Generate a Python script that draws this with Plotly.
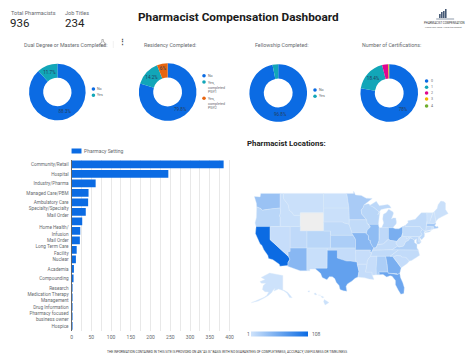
import math
import plotly.graph_objects as go
from plotly.colors import sample_colorscale

W, H = 474, 356
FONT = "Roboto"
BLUE = "#0b6be3"
TEAL = "#12a6b8"
ORANGE = "#e8650f"
MAGENTA = "#e0068f"
GOLD = "#f0b400"
GREEN = "#70ad2f"
INK = "#666a6e"

# ---- data ----
dual_labels = ["No", "Yes"]
dual_values = [88.3, 11.7]
residency_labels = ["No", "Yes,<br>completed<br>PGY1", "Yes,<br>completed<br>PGY2"]
residency_values = [79.8, 14.2, 6.0]
fellowship_labels = ["No", "Yes"]
fellowship_values = [96.8, 3.2]
cert_labels = ["0", "1", "2", "3", "4"]
cert_values = [77.6, 18.4, 3.4, 0.4, 0.2]

settings = ["Community/Retail", "Hospital", "Industry/Pharma", "Managed Care/PBM", "Ambulatory Care",
            "Specialty/Specialty<br>Mail Order", "(no label)", "Home Health/<br>Infusion", "Mail Order",
            "Long Term Care<br>Facility", "Nuclear", "Academia", "Compounding", "Research",
            "Medication Therapy<br>Management", "Drug Information", "Pharmacy focused<br>business owner", "Hospice"]
setting_counts = [385, 245, 61, 43, 42, 36, 27, 22, 21, 13, 11, 6, 3, 2, 2, 2, 1, 1]

state_values = {"CA":108,"TX":60,"FL":55,"GA":48,"OH":48,"AZ":40,"MO":40,"IL":36,"WA":30,"MN":22,"AL":20,
    "MA":24,"VA":18,"KS":20,"CO":13,"PA":9,"NY":9,"NJ":12,"MI":11,"WI":13,"IN":10,"KY":8,"TN":9,"NC":8,
    "SC":7,"MS":6,"LA":7,"AR":6,"OK":7,"NM":5,"UT":10,"NV":6,"OR":13,"ID":5,"MT":4,"ND":3,"SD":4,"NE":9,
    "IA":8,"WV":4,"MD":10,"DE":3,"CT":7,"RI":4,"VT":3,"NH":4,"ME":4,"AK":2,"HI":3,"WY":None}

state_shapes = {
"WA":[[(-124.7,48.4),(-123.0,48.3),(-122.8,49.0),(-117.0,49.0),(-117.0,46.0),(-119.0,45.9),(-121.2,45.7),(-122.3,45.55),(-122.8,45.9),(-124.0,46.25),(-124.1,47.0)]],
"OR":[[(-124.0,46.25),(-122.8,45.9),(-122.3,45.55),(-121.2,45.7),(-119.0,45.9),(-117.0,46.0),(-116.9,45.0),(-117.2,44.4),(-117.0,44.0),(-117.0,42.0),(-124.2,42.0),(-124.5,42.8),(-124.1,44.0)]],
"CA":[[(-124.2,42.0),(-120.0,42.0),(-120.0,39.0),(-114.6,35.0),(-114.1,34.3),(-114.7,33.4),(-114.7,32.7),(-117.1,32.5),(-117.3,33.0),(-118.4,33.75),(-119.2,34.15),(-120.5,34.45),(-120.7,35.2),(-121.9,36.6),(-122.5,37.7),(-123.0,38.0),(-123.8,39.3),(-124.4,40.4)]],
"NV":[[(-120,42),(-114.05,42),(-114.05,36.2),(-114.7,36.1),(-114.6,35.0),(-120,39)]],
"ID":[[(-117,49),(-116.05,49),(-116.05,48),(-114.6,46.65),(-114.3,45.5),(-113.5,45.1),(-113.0,44.5),(-111.05,44.5),(-111.05,42),(-117,42),(-117,44),(-117.2,44.4),(-116.9,45),(-117,46)]],
"MT":[[(-116.05,49),(-104.05,49),(-104.05,45),(-111.05,45),(-111.05,44.5),(-113.0,44.5),(-113.5,45.1),(-114.3,45.5),(-114.6,46.65),(-116.05,48)]],
"WY":[[(-111.05,45),(-104.05,45),(-104.05,41),(-111.05,41)]],
"UT":[[(-114.05,42),(-111.05,42),(-111.05,41),(-109.05,41),(-109.05,37),(-114.05,37)]],
"CO":[[(-109.05,41),(-102.05,41),(-102.05,37),(-109.05,37)]],
"AZ":[[(-114.05,37),(-109.05,37),(-109.05,31.33),(-111.07,31.33),(-114.8,32.5),(-114.7,32.7),(-114.7,33.4),(-114.1,34.3),(-114.6,35.0),(-114.7,36.1),(-114.05,36.2)]],
"NM":[[(-109.05,37),(-103.0,37),(-103.05,32),(-106.6,32),(-106.5,31.78),(-108.2,31.78),(-108.2,31.33),(-109.05,31.33)]],
"ND":[[(-104.05,49),(-97.2,49),(-96.55,46),(-104.05,46)]],
"SD":[[(-104.05,46),(-96.55,46),(-96.45,45.3),(-96.45,43.5),(-96.5,42.5),(-98.0,42.8),(-98.5,43),(-104.05,43)]],
"NE":[[(-104.05,43),(-98.5,43),(-98,42.8),(-96.5,42.5),(-95.9,41.2),(-95.3,40),(-102.05,40),(-102.05,41),(-104.05,41)]],
"KS":[[(-102.05,40),(-95.3,40),(-94.6,39.1),(-94.6,37),(-102.05,37)]],
"OK":[[(-103,37),(-94.6,37),(-94.45,35.4),(-94.5,33.65),(-96,33.8),(-97.2,33.8),(-98.5,34.1),(-100,34.56),(-100,36.5),(-103,36.5)]],
"TX":[[(-106.6,32),(-103.05,32),(-103,36.5),(-100,36.5),(-100,34.56),(-98.5,34.1),(-97.2,33.8),(-96,33.8),(-94.5,33.65),(-94.05,33.55),(-94.05,33),(-93.55,31.2),(-93.85,29.7),(-94.7,29.4),(-95.6,28.7),(-97.0,27.9),(-97.4,27.2),(-97.15,25.95),(-98.2,26.05),(-99.2,26.4),(-99.5,27.5),(-100.3,28.3),(-100.8,29.3),(-101.5,29.77),(-102.4,29.8),(-103.1,29.0),(-104.5,29.6),(-105,30.7),(-106.5,31.78)]],
"MN":[[(-97.2,49),(-95.15,49),(-95.15,49.4),(-94.6,48.7),(-92.9,48.6),(-91.4,48.05),(-89.6,48.0),(-92.0,46.7),(-92.3,46.1),(-92.9,45.6),(-92.75,44.75),(-91.25,43.5),(-96.45,43.5),(-96.45,45.3),(-96.55,46)]],
"IA":[[(-96.45,43.5),(-91.25,43.5),(-91.1,42.7),(-90.15,41.9),(-91.1,41.2),(-91.4,40.4),(-91.7,40.6),(-95.75,40.6),(-95.9,41.2),(-96.5,42.5)]],
"MO":[[(-95.75,40.6),(-91.7,40.6),(-91.4,40.4),(-90.7,39.9),(-90.7,39.0),(-90.15,38.8),(-90.2,38.4),(-89.5,37.3),(-89.1,37.0),(-89.5,36.5),(-89.7,36.0),(-90.35,36.0),(-90.15,36.5),(-94.6,36.5),(-94.6,39.1),(-95.3,40)]],
"AR":[[(-94.6,36.5),(-90.15,36.5),(-90.35,36.0),(-89.7,36.0),(-90.1,35.0),(-90.6,34.6),(-91.1,33.8),(-91.15,33.0),(-94.05,33),(-94.05,33.55),(-94.5,33.65),(-94.45,35.4)]],
"LA":[[(-94.05,33),(-91.15,33),(-91.6,31.0),(-89.7,31.0),(-89.6,30.2),(-89.4,29.8),(-89.1,29.1),(-90.5,29.2),(-91.8,29.5),(-93.85,29.7),(-93.55,31.2)]],
"WI":[[(-92.3,46.1),(-92.0,46.7),(-90.8,46.9),(-89.1,46.15),(-87.8,45.35),(-87.6,45.1),(-88.0,44.55),(-87.3,45.2),(-87.5,44.3),(-87.85,43),(-87.8,42.5),(-90.65,42.5),(-91.1,42.7),(-91.25,43.5),(-92.75,44.75),(-92.9,45.6)]],
"IL":[[(-90.65,42.5),(-87.8,42.5),(-87.55,41.75),(-87.53,39.35),(-87.6,38.7),(-88.05,37.8),(-88.45,37.1),(-89.1,37.0),(-89.5,37.3),(-90.2,38.4),(-90.15,38.8),(-90.7,39.0),(-90.7,39.9),(-91.4,40.4),(-91.1,41.2),(-90.15,41.9)]],
"IN":[[(-87.55,41.75),(-87.2,41.75),(-84.8,41.75),(-84.8,39.1),(-85.4,38.7),(-86.3,38.0),(-88.05,37.8),(-87.6,38.7),(-87.53,39.35)]],
"MI":[[(-86.8,41.76),(-84.8,41.75),(-83.45,41.73),(-83.1,42.1),(-82.5,42.6),(-82.4,43.0),(-82.6,43.9),(-83.4,43.9),(-83.9,43.7),(-83.3,44.8),(-83.4,45.2),(-84.7,45.75),(-85.5,45.0),(-86.3,44.7),(-86.5,43.7),(-86.2,42.8)],
      [(-90.4,46.55),(-88.4,47.4),(-87.5,46.5),(-85,46.75),(-84.4,46.5),(-84.0,46.0),(-85,46),(-87.0,45.7),(-87.6,45.1),(-87.8,45.35),(-89.1,46.15)]],
"OH":[[(-84.8,41.75),(-83.45,41.73),(-82.7,41.5),(-81.7,41.5),(-80.52,42.0),(-80.52,40.6),(-80.9,39.7),(-81.7,39.2),(-82.2,38.6),(-83.0,38.7),(-84.2,38.8),(-84.8,39.1)]],
"KY":[[(-89.5,36.5),(-88.05,36.5),(-83.7,36.6),(-82.0,37.5),(-82.6,38.2),(-82.2,38.6),(-83,38.7),(-84.2,38.8),(-84.8,39.1),(-85.4,38.7),(-86.3,38),(-88.05,37.8),(-88.45,37.1),(-89.1,37)]],
"TN":[[(-90.1,35),(-88.2,35),(-84.3,35),(-81.7,36.6),(-83.7,36.6),(-88.05,36.5),(-89.5,36.5),(-89.7,36)]],
"MS":[[(-91.15,33),(-91.1,33.8),(-90.6,34.6),(-90.1,35),(-88.2,35),(-88.45,31.9),(-88.4,30.3),(-89.6,30.2),(-89.7,31),(-91.6,31)]],
"AL":[[(-88.2,35),(-85.6,35),(-85.15,32.8),(-85.0,31),(-87.6,31),(-87.5,30.3),(-88.4,30.3),(-88.45,31.9)]],
"GA":[[(-85.6,35),(-83.1,35),(-83.3,34.7),(-82.0,33.4),(-81.0,32.1),(-81.4,30.7),(-82.05,30.4),(-82.2,30.57),(-84.85,30.7),(-85.0,31),(-85.15,32.8)]],
"FL":[[(-87.6,31),(-85.0,31),(-84.85,30.7),(-82.2,30.57),(-82.05,30.4),(-81.4,30.7),(-81.2,29.6),(-80.5,28.2),(-80.05,26.9),(-80.2,25.3),(-81.1,25.1),(-81.8,26.1),(-82.7,27.7),(-82.7,28.8),(-83.7,29.9),(-84.3,30.05),(-85.3,29.7),(-86.4,30.4),(-87.5,30.3)]],
"SC":[[(-83.1,35),(-82.3,35.2),(-81.05,35.1),(-80.8,34.82),(-79.67,34.8),(-78.55,33.85),(-79.2,33.2),(-80.4,32.5),(-81,32.1),(-82,33.4),(-83.3,34.7)]],
"NC":[[(-84.3,35),(-83.1,35),(-82.3,35.2),(-81.05,35.1),(-80.8,34.82),(-79.67,34.8),(-78.55,33.85),(-77.9,33.95),(-76.5,34.7),(-75.5,35.25),(-75.9,36.55),(-81.7,36.6)]],
"VA":[[(-83.7,36.6),(-81.7,36.6),(-75.9,36.55),(-76.3,37.0),(-76.3,37.9),(-77.0,38.3),(-77.05,38.85),(-77.7,39.3),(-78.35,39.4),(-78.9,38.8),(-79.65,38.55),(-80.3,37.5),(-81.7,37.25),(-82,37.5)]],
"WV":[[(-82,37.5),(-81.7,37.25),(-80.3,37.5),(-79.65,38.55),(-78.9,38.8),(-78.35,39.4),(-77.7,39.3),(-78.4,39.65),(-79.48,39.2),(-79.48,39.72),(-80.52,39.72),(-80.52,40.6),(-80.9,39.7),(-81.7,39.2),(-82.2,38.6),(-82.6,38.2)]],
"MD":[[(-79.48,39.72),(-75.79,39.72),(-75.7,38.46),(-75.05,38.45),(-75.6,37.95),(-76.3,38.0),(-76.5,38.5),(-76.4,39.2),(-77.05,38.85),(-77.7,39.3),(-78.4,39.65),(-79.48,39.2)]],
"DE":[[(-75.79,39.72),(-75.4,39.8),(-75.55,39.45),(-75.05,38.45),(-75.7,38.46)]],
"PA":[[(-80.52,42),(-79.76,42.27),(-79.76,42),(-75.35,42),(-74.7,41.36),(-75.1,40.95),(-75.1,40.6),(-74.75,40.2),(-75.4,39.8),(-75.79,39.72),(-80.52,39.72)]],
"NJ":[[(-74.7,41.36),(-73.9,41.0),(-74.25,40.5),(-74.0,40.4),(-74.1,39.7),(-74.9,38.95),(-75.5,39.5),(-74.75,40.2),(-75.1,40.6),(-75.1,40.95)]],
"NY":[[(-79.76,42.27),(-78.9,42.9),(-79.05,43.27),(-76.8,43.6),(-76.2,44.1),(-75,45),(-73.35,45),(-73.25,43.6),(-73.5,42.05),(-73.65,41),(-73.9,41.0),(-74.7,41.36),(-75.35,42),(-79.76,42)],
      [(-74.0,40.6),(-73.7,40.9),(-72.0,41.1),(-72.6,40.8)]],
"CT":[[(-73.5,42.05),(-71.8,42.02),(-71.85,41.32),(-73.65,41)]],
"RI":[[(-71.8,42.02),(-71.4,42.02),(-71.15,41.5),(-71.85,41.32)]],
"MA":[[(-73.5,42.05),(-73.27,42.75),(-71.3,42.7),(-70.8,42.87),(-70.65,42.6),(-71.0,42.3),(-70.6,41.95),(-70.05,42.05),(-69.95,41.67),(-71.15,41.5),(-71.4,42.02),(-71.8,42.02)]],
"VT":[[(-73.35,45),(-71.5,45),(-72.05,44.1),(-72.45,43.1),(-72.45,42.73),(-73.27,42.75),(-73.25,43.6)]],
"NH":[[(-71.5,45),(-71.1,45.3),(-70.7,43.1),(-70.8,42.87),(-71.3,42.7),(-72.45,42.73),(-72.45,43.1),(-72.05,44.1)]],
"ME":[[(-71.1,45.3),(-70.3,45.9),(-70.0,46.7),(-69.2,47.45),(-68.3,47.35),(-67.8,47.05),(-67.8,45.7),(-67.0,44.85),(-68.5,44.3),(-70.0,43.75),(-70.7,43.1)]],
"AK":[[(-141,69.6),(-141,60.3),(-139,59.8),(-135,58.5),(-130,55),(-133,55.2),(-136,58),(-140,59.7),(-146,60.8),(-149,60),(-151.5,59.4),(-150,61.2),(-152.5,60.0),(-154,58.5),(-158,56.5),(-163,54.8),(-170,52.9),(-178,51.8),(-170,53.4),(-163,55.3),(-160,56.5),(-157.5,58.8),(-162,59),(-165,60.5),(-164,63),(-161,64.5),(-166,64.6),(-168,65.6),(-162,67),(-166.5,68.4),(-156.5,71.3),(-149,70.5)]],
"HI":[[(-155.9,20.2),(-155.1,19.8),(-154.8,19.5),(-155.7,18.95),(-156.05,19.7)],
      [(-156.7,20.95),(-156.2,20.9),(-156.0,20.7),(-156.4,20.6)],
      [(-158.25,21.55),(-157.95,21.7),(-157.65,21.3),(-158.1,21.3)],
      [(-159.75,22.1),(-159.4,22.2),(-159.35,21.95),(-159.6,21.9)],
      [(-157.3,21.2),(-156.75,21.17),(-156.85,21.05),(-157.3,21.1)]],
}

# ---- helpers ----
def X(p): return p / W
def Y(p): return 1 - p / H

def mercator(lat):
    return math.log(math.tan(math.pi/4 + math.radians(lat)/2))

def project(state, lon, lat):
    # returns plain map units for the map subplot; Alaska and Hawaii sit in insets
    if state == "AK":
        return 252 + (lon + 178) * 0.854, 273 + (71.3 - lat) * 1.52
    if state == "HI":
        return 307.7 + (lon + 160) * 4.3, 290.7 + (22.2 - lat) * 4.4
    return 255 + (lon + 124.7) * 3.38, 231 + (mercator(41) - mercator(lat)) * 190

fig = go.Figure()

def donut(labels, values, colors, cx, cy, r, texts):
    fig.add_trace(go.Pie(labels=[l.replace("<br>"," ") for l in labels], values=values, hole=0.5, sort=False,
        direction="clockwise", rotation=0, marker=dict(colors=colors, line=dict(width=0)),
        text=texts, textinfo="text", textposition="inside", insidetextorientation="horizontal",
        textfont=dict(family=FONT, size=4.6, color="#24405f"), showlegend=False,
        domain=dict(x=[X(cx-r), X(cx+r)], y=[Y(cy+r), Y(cy-r)])))

donut(dual_labels, dual_values, [BLUE, TEAL], 56.7, 92, 28.5, ["88.3%", "11.7%"])
donut(residency_labels, residency_values, [BLUE, TEAL, ORANGE], 167.7, 92, 29, ["79.8%", "14.2%", "6%"])
donut(fellowship_labels, fellowship_values, [BLUE, TEAL], 279, 93, 29, ["96.8%", ""])
donut(cert_labels, cert_values, [BLUE, TEAL, MAGENTA, GOLD, GREEN], 390.7, 93, 29, ["78%", "18.4%", "", "", ""])

fig.add_trace(go.Bar(x=setting_counts, y=settings, orientation="h", marker=dict(color=BLUE, line=dict(width=0)),
    name="Pharmacy Setting", showlegend=False, width=0.82, xaxis="x", yaxis="y"))

MAP_SCALE = [[0, "#cfe3fb"], [1, "#0b6be3"]]
VMIN, VMAX = 1, 108
for st, parts in state_shapes.items():
    xs, ys = [], []
    for ring in parts:
        pts = [project(st, lon, lat) for lon, lat in ring]
        pts.append(pts[0])
        xs += [p[0] for p in pts] + [None]
        ys += [p[1] for p in pts] + [None]
    v = state_values.get(st)
    col = "#eeeeee" if v is None else sample_colorscale(MAP_SCALE, (v - VMIN) / (VMAX - VMIN))[0]
    fig.add_trace(go.Scatter(x=xs, y=ys, mode="lines", fill="toself", fillcolor=col, name=st,
        line=dict(color="#dceafb", width=0.4), showlegend=False, xaxis="x2", yaxis="y2",
        hoverinfo="text", text=f"{st}: {v}" if v is not None else st))

# colour key of the map (points fall outside the axis window, only the colour bar shows)
fig.add_trace(go.Scatter(x=[0, 0], y=[0, 0], mode="markers", showlegend=False, xaxis="x2", yaxis="y2", hoverinfo="skip",
    marker=dict(color=[VMIN, VMAX], cmin=VMIN, cmax=VMAX, colorscale=MAP_SCALE, size=1, showscale=True,
        colorbar=dict(orientation="h", thickness=5, thicknessmode="pixels", len=57, lenmode="pixels",
            x=X(252), xanchor="left", xpad=0, ypad=0, y=Y(334), yanchor="middle", showticklabels=False, ticks="", outlinewidth=0))))

tick_vals = list(range(0, 401, 50))
fig.update_layout(
    width=W, height=H, autosize=False, margin=dict(l=0, r=0, t=0, b=0),
    paper_bgcolor="white", plot_bgcolor="rgba(0,0,0,0)", font=dict(family=FONT, color=INK, size=6),
    xaxis=dict(domain=[X(71), X(232)], range=[0, 405], tickvals=tick_vals, showgrid=True, gridcolor="#e8e8e8", gridwidth=1,
               minor=dict(dtick=25, showgrid=True, gridcolor="#e8e8e8"), zeroline=False, ticks="",
               tickfont=dict(size=5, color=INK), ticklabelstandoff=2, anchor="y"),
    yaxis=dict(domain=[Y(330.6), Y(159.6)], type="category", autorange=False, range=[17.5, -0.5], categoryorder="array",
               categoryarray=settings, tickvals=settings,
               ticktext=["" if s == "(no label)" else s for s in settings],
               showline=True, linecolor="#666666", linewidth=1, ticks="", showgrid=False,
               tickfont=dict(size=4.7, color=INK), ticklabelstandoff=1, anchor="x"),
    xaxis2=dict(domain=[X(246), X(456)], range=[246, 456], visible=False, anchor="y2"),
    yaxis2=dict(domain=[Y(312), Y(186)], range=[312, 186], visible=False, anchor="x2"),
)

def text(x, y, s, size, color=INK, bold=False, anchor="left"):
    fig.add_annotation(xref="paper", yref="paper", x=X(x), y=Y(y), text=f"<b>{s}</b>" if bold else s, showarrow=False,
        xanchor=anchor, yanchor="middle", align=anchor, font=dict(family=FONT, size=size, color=color),
        borderpad=0, borderwidth=0)

text(239.5, 17, "Pharmacist Compensation Dashboard", 11.8, "#1b1b1b", True, "center")
text(10, 13, "Total Pharmacists", 5.5)
text(9.5, 23, "936", 11.5, "#222222")
text(64, 13, "Job Titles", 5.5)
text(64, 23, "234", 11.5, "#222222")
text(65, 45, "Dual Degree or Masters Completed:", 5.3, anchor="center")
text(170, 45, "Residency Completed:", 5.3, anchor="center")
text(282, 45, "Fellowship Completed:", 5.3, anchor="center")
text(393, 45, "Number of Certifications:", 5.3, anchor="center")
text(122.5, 42.5, "⋮", 7, "#444444", True, "center")
text(287, 143, "Pharmacist Locations:", 7.8, "#222222", True, "center")
text(247.5, 334, "1", 5)
text(313, 334, "108", 5)
text(227, 352, "THE INFORMATION CONTAINED IN THIS SITE IS PROVIDED ON AN \"AS IS\" BASIS WITH NO GUARANTEES OF COMPLETENESS, ACCURACY, USEFULNESS OR TIMELINESS", 3.2, "#333333", False, "center")
text(83.3, 151, "Pharmacy Setting", 5)
fig.add_shape(type="rect", xref="paper", yref="paper", x0=X(71), x1=X(81), y0=Y(153.5), y1=Y(148.5), fillcolor=BLUE, line=dict(width=0))

def legend_item(x, y, color, s):
    fig.add_shape(type="circle", xref="paper", yref="paper", x0=X(x-1.8), x1=X(x+1.8), y0=Y(y+1.8), y1=Y(y-1.8),
                  fillcolor=color, line=dict(width=0))
    n = s.count("<br>")
    text(x+4, y + n*2.8, s, 3.6)

for y, c, s in zip([89, 95.3], [BLUE, TEAL], dual_labels):
    legend_item(93, y, c, s)
for y, c, s in zip([75.7, 82, 98.3], [BLUE, TEAL, ORANGE], residency_labels):
    legend_item(204.3, y, c, s)
for y, c, s in zip([90, 96.3], [BLUE, TEAL], fellowship_labels):
    legend_item(316, y, c, s)
for y, c, s in zip([81, 87.3, 93, 99, 106], [BLUE, TEAL, MAGENTA, GOLD, GREEN], cert_labels):
    legend_item(428.3, y, c, s)

# menu divider, pointer outline and logo
fig.add_shape(type="line", xref="paper", yref="paper", x0=X(113), x1=X(113), y0=Y(48), y1=Y(41), line=dict(color="#e8e8e8", width=0.6))
fig.add_shape(type="path", xref="paper", yref="paper", line=dict(color="#8a8a8a", width=0.6), fillcolor="white",
              path=f"M {X(101.5)} {Y(39.5)} L {X(103)} {Y(39.5)} L {X(103)} {Y(42)} L {X(104.5)} {Y(42.5)} L {X(104.5)} {Y(46)} L {X(101)} {Y(46)} L {X(100)} {Y(43)} L {X(101.5)} {Y(42.5)} Z")
for x0, top in zip([441, 443, 445, 447], [14, 12, 11, 9]):
    fig.add_shape(type="rect", xref="paper", yref="paper", x0=X(x0), x1=X(x0+1.3), y0=Y(18), y1=Y(top),
                  fillcolor="#1d3557", line=dict(width=0))
fig.add_shape(type="line", xref="paper", yref="paper", x0=X(438), x1=X(456), y0=Y(19), y1=Y(19), line=dict(color="#1d3557", width=0.5))
text(446, 23, "PHARMACIST COMPENSATION", 2.9, "#333333", False, "center")
text(446, 28, "Know your value. Know the market.", 2.4, "#555555", False, "center")

fig.write_html("out.html", config={"displayModeBar": False},
               post_script="document.body.style.margin='0';document.body.style.overflow='hidden';")
